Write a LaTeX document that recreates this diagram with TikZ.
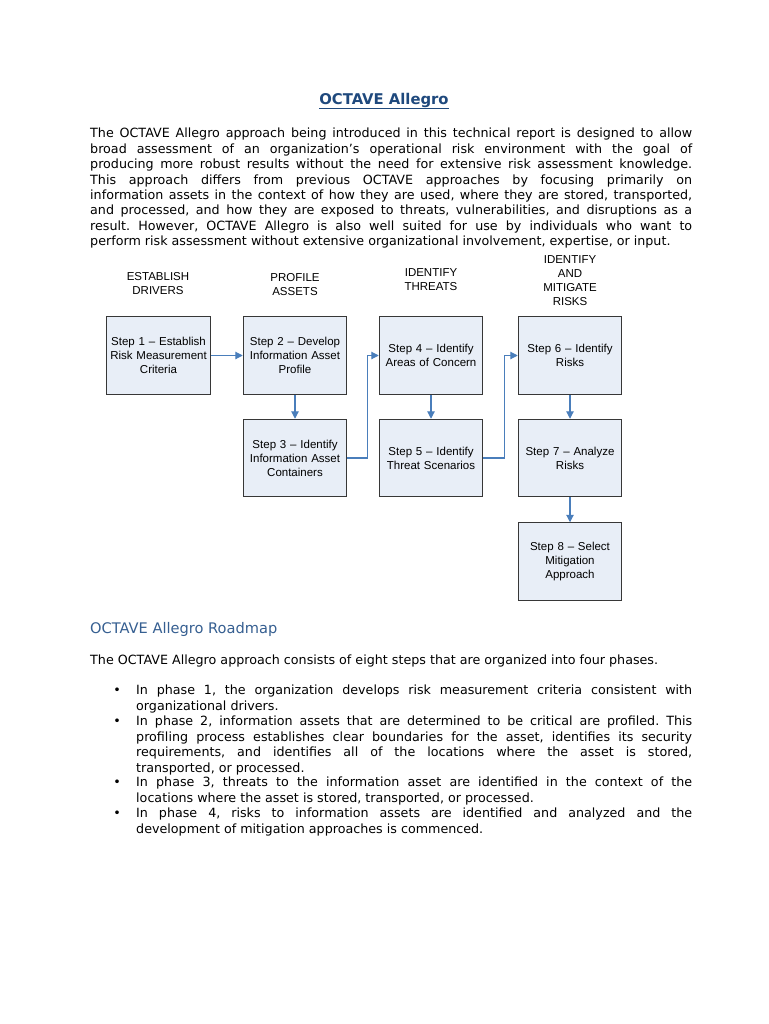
\documentclass[tikz,border=0pt]{standalone}
\usepackage{fontspec}
\setmainfont{DejaVu Sans}
\newfontfamily\diagfont{Liberation Sans}
\usetikzlibrary{arrows.meta}
\definecolor{titleblue}{RGB}{31,73,125}
\definecolor{headblue}{RGB}{54,95,145}
\definecolor{boxfill}{RGB}{232,238,247}
\definecolor{boxline}{RGB}{55,55,55}
\definecolor{arrowblue}{RGB}{74,126,187}
\tikzset{
  body/.style={anchor=north west, inner sep=0pt, align=justify,
    font=\fontsize{12.7}{15.4}\selectfont},
  stepbox/.style={draw=boxline, line width=1pt, fill=boxfill, minimum width=103.5pt,
    minimum height=77.5pt, inner sep=1pt, text width=100pt, align=center,
    font=\diagfont\fontsize{11.5}{14}\selectfont},
  phase/.style={align=center, inner sep=0pt, font=\diagfont\fontsize{11.5}{14}\selectfont},
  conn/.style={draw=arrowblue, line width=1.1pt, -{Triangle[length=7.5pt,width=7.5pt]}},
  bulletdot/.style={inner sep=0pt, anchor=base, font=\fontsize{12.7}{15.4}\selectfont}
}
\begin{document}
\begin{tikzpicture}[x=1pt,y=-1pt]
\useasboundingbox[fill=white] (0,0) rectangle (768,1024);
\hyphenpenalty=10000 \exhyphenpenalty=10000 \frenchspacing
% title
\node[inner sep=0pt, font=\bfseries\fontsize{14.8}{17}\selectfont, text=titleblue] (title) at (384,101) {\underline{OCTAVE Allegro}};
% intro paragraph
\node[body, text width=602pt] (intro) at (90,128) {%
The OCTAVE Allegro approach being introduced in this technical report is designed to allow\linebreak
broad assessment of an organization’s operational risk environment with the goal of\linebreak
producing more robust results without the need for extensive risk assessment knowledge.\linebreak
This approach differs from previous OCTAVE approaches by focusing primarily on\linebreak
information assets in the context of how they are used, where they are stored, transported,\linebreak
and processed, and how they are exposed to threats, vulnerabilities, and disruptions as a\linebreak
result. However, OCTAVE Allegro is also well suited for use by individuals who want to\linebreak
perform risk assessment without extensive organizational involvement, expertise, or input.};
% phase labels
\node[phase] (p1) at (158,284) {ESTABLISH\\DRIVERS};
\node[phase] (p2) at (295,285) {PROFILE\\ASSETS};
\node[phase] (p3) at (431,280) {IDENTIFY\\THREATS};
\node[phase] (p4) at (570,280.5) {IDENTIFY\\AND\\MITIGATE\\RISKS};
% boxes
\node[stepbox] (b1) at (158.5,355.5) {Step 1 – Establish\\Risk Measurement\\Criteria};
\node[stepbox] (b2) at (295,355.5) {Step 2 – Develop\\Information Asset\\Profile};
\node[stepbox] (b3) at (295,458) {Step 3 – Identify\\Information Asset\\Containers};
\node[stepbox] (b4) at (431,355.5) {Step 4 – Identify\\Areas of Concern};
\node[stepbox] (b5) at (431,458) {Step 5 – Identify\\Threat Scenarios};
\node[stepbox] (b6) at (570,355.5) {Step 6 – Identify\\Risks};
\node[stepbox] (b7) at (570,458) {Step 7 – Analyze\\Risks};
\node[stepbox] (b8) at (570,561.5) {Step 8 – Select\\Mitigation\\Approach};
% connectors
\draw[conn] (b1.east) -- (b2.west);
\draw[conn] (b2.south) -- (b3.north);
\draw[conn] (b3.east) -- ++(20,0) |- (b4.west);
\draw[conn] (b4.south) -- (b5.north);
\draw[conn] (b5.east) -- ++(21,0) |- (b6.west);
\draw[conn] (b6.south) -- (b7.north);
\draw[conn] (b7.south) -- (b8.north);
% roadmap section
\node[anchor=north west, inner sep=0pt, text=headblue, font=\fontsize{14.6}{17}\selectfont] (road) at (90,622) {OCTAVE Allegro Roadmap};
\node[anchor=north west, inner sep=0pt, font=\fontsize{12.7}{15.4}\selectfont] (lead) at (90,655) {The OCTAVE Allegro approach consists of eight steps that are organized into four phases.};
% bullets
\node[body, text width=556pt] (i1) at (136,685) {%
In phase 1, the organization develops risk measurement criteria consistent with\linebreak
organizational drivers.};
\node[body, text width=556pt] (i2) at (136,716) {%
In phase 2, information assets that are determined to be critical are profiled. This\linebreak
profiling process establishes clear boundaries for the asset, identifies its security\linebreak
requirements, and identifies all of the locations where the asset is stored,\linebreak
transported, or processed.};
\node[body, text width=556pt] (i3) at (136,777) {%
In phase 3, threats to the information asset are identified in the context of the\linebreak
locations where the asset is stored, transported, or processed.};
\node[body, text width=556pt] (i4) at (136,808) {%
In phase 4, risks to information assets are identified and analyzed and the\linebreak
development of mitigation approaches is commenced.};
\node[bulletdot] (d1) at (117,694.5) {•};
\node[bulletdot] (d2) at (117,725.5) {•};
\node[bulletdot] (d3) at (117,786.5) {•};
\node[bulletdot] (d4) at (117,817.5) {•};
\end{tikzpicture}
\end{document}
